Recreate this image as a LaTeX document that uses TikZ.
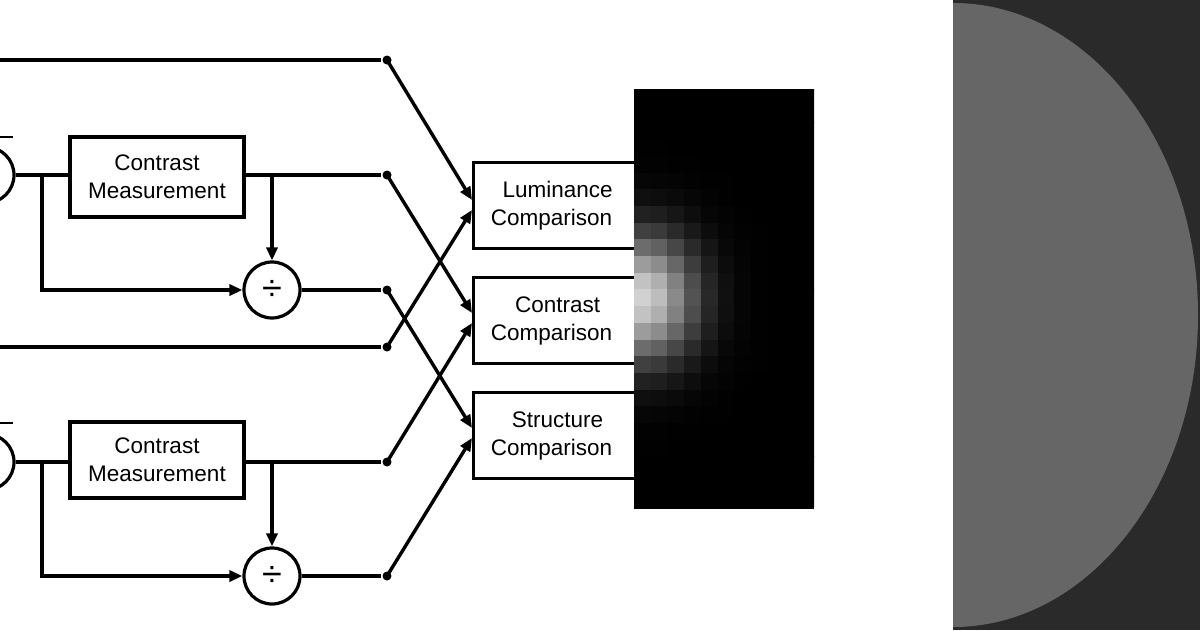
\documentclass[tikz,border=0pt]{standalone}
\usepackage{fontspec}
\setmainfont{Liberation Sans}
\usetikzlibrary{arrows.meta}
\begin{document}
\begin{tikzpicture}[x=1pt,y=-1pt,line width=3.4pt,
  blk/.style={draw,line width=3.2pt,rectangle,inner sep=0pt,align=center,font=\fontsize{22.5}{28}\selectfont},
  opc/.style={draw,line width=3.2pt,circle,minimum size=56pt,inner sep=0pt},
  jd/.style={circle,fill,inner sep=0pt,minimum size=9pt},
  arr/.style={-{Triangle[length=13pt,width=11pt]}}]
\useasboundingbox (0,0) rectangle (1200,630);
% left partial circles and bars
\node[opc] (s1) at (-14,175) {};
\node[opc] (s2) at (-14,462) {};
\draw[line width=1.4pt] (0,137) -- (13,137);
\draw[line width=1.4pt] (0,423) -- (13,423);
% contrast measurement boxes
\node[blk,minimum width=174pt,minimum height=80pt] (cm1) at (157,177) {Contrast\\Measurement};
\node[blk,minimum width=174pt,minimum height=76pt] (cm2) at (157,460) {Contrast\\Measurement};
% divide circles
\node[opc,font=\fontsize{36}{36}\selectfont] (d1) at (272,290) {÷};
\node[opc,font=\fontsize{36}{36}\selectfont] (d2) at (272,576) {÷};
% junction dots
\node[jd] (j1) at (387,60) {};
\node[jd] (j2) at (387,175) {};
\node[jd] (j3) at (387,290) {};
\node[jd] (j4) at (387,347) {};
\node[jd] (j5) at (387,462) {};
\node[jd] (j6) at (387,576) {};
% comparison boxes
\node[blk,minimum width=168pt,minimum height=86pt,anchor=north west] (lc) at (472,161) {Luminance\\Comparison\hspace*{12pt}};
\node[blk,minimum width=168pt,minimum height=86pt,anchor=north west] (cc) at (472,276) {Contrast\\Comparison\hspace*{12pt}};
\node[blk,minimum width=168pt,minimum height=86pt,anchor=north west] (sc) at (472,391) {Structure\\Comparison\hspace*{12pt}};
\coordinate (t0) at (0,60);
\coordinate (m0) at (0,347);
\coordinate (b1) at (42,175);
\coordinate (b2) at (42,462);
\coordinate (r1) at (272,175);
\coordinate (r2) at (272,462);
% lines
\draw (t0) -- (j1);
\draw (m0) -- (j4);
\draw (s1.east) -- (cm1.west |- s1.east);
\draw (s2.east) -- (cm2.west |- s2.east);
\draw[arr] (b1) |- (d1.west);
\draw[arr] (b2) |- (d2.west);
\draw (cm1.east |- j2) -- (j2);
\draw (cm2.east |- j5) -- (j5);
\draw[arr] (r1) -- (d1.north);
\draw[arr] (r2) -- (d2.north);
\draw (d1.east) -- (j3);
\draw (d2.east) -- (j6);
\draw[arr] (j1.center) -- (lc.west |- 0,200);
\draw[arr] (j4.center) -- (lc.west |- 0,210);
\draw[arr] (j2.center) -- (cc.west |- 0,313);
\draw[arr] (j5.center) -- (cc.west |- 0,323);
\draw[arr] (j3.center) -- (sc.west |- 0,428);
\draw[arr] (j6.center) -- (sc.west |- 0,438);
% gaussian image
\begin{scope}
\clip (634,89) rectangle (814,509);
\fill[black] (634,89) rectangle (814,509);
\foreach \i in {0,...,10}{
  \foreach \j in {0,...,24}{
    \pgfmathsetmacro{\v}{0.82*exp(-(\i*\i)/(2*2.2*2.2)-((\j-12)*(\j-12))/(2*2.6*2.6))}
    \definecolor{cellc}{gray}{\v}
    \fill[cellc] ({634+16.7*\i},{89+16.7*\j}) rectangle ++(16.8,16.8);
  }
}
\end{scope}
% right panel
\definecolor{paneldark}{HTML}{2A2A2A}
\definecolor{panelgray}{HTML}{666666}
\fill[paneldark] (953,0) rectangle (1200,630);
\begin{scope}
\clip (953,0) rectangle (1200,630);
\fill[panelgray] (953,315) ellipse [x radius=245, y radius=312];
\end{scope}
\end{tikzpicture}
\end{document}
